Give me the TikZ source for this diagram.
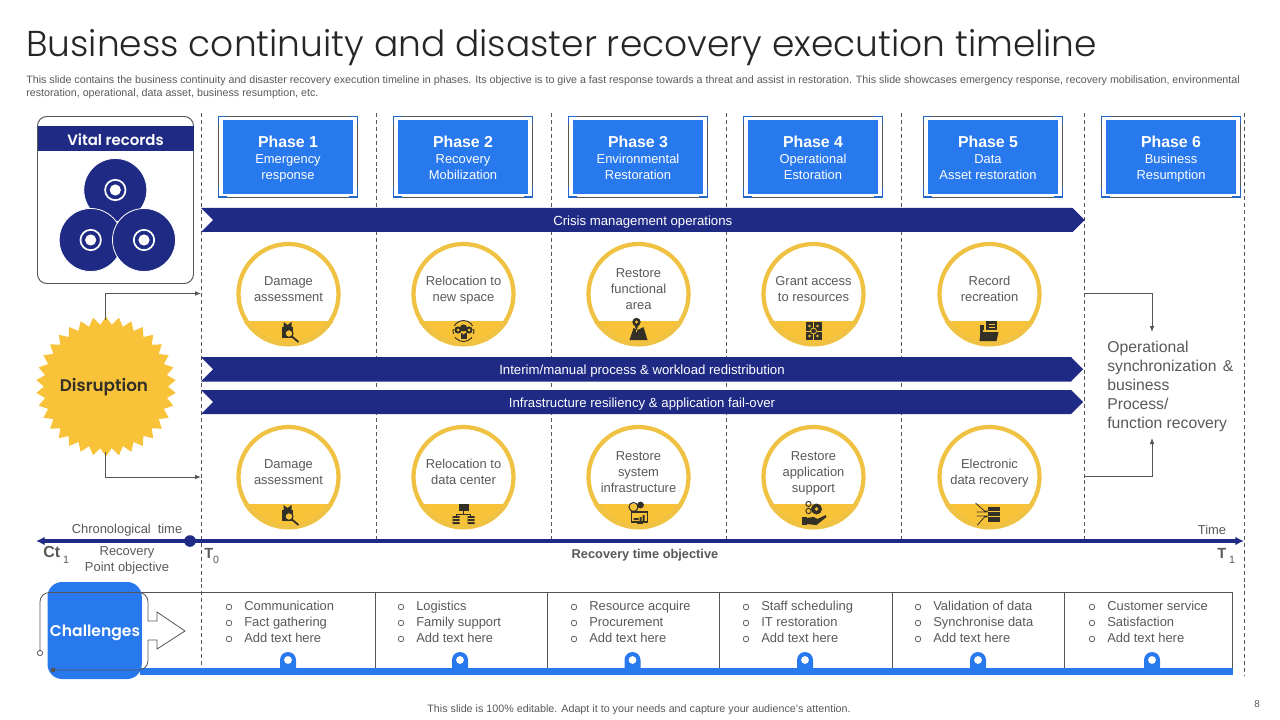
\documentclass[tikz,border=0pt]{standalone}
\usepackage{fontspec}
\setmainfont{Liberation Sans}
\newfontfamily\titlefont{Poppins Light}
\newfontfamily\geofont{Poppins SemiBold}
\usetikzlibrary{arrows.meta,shapes.geometric,shapes.arrows,calc}
\definecolor{navy}{HTML}{1F2A85}
\definecolor{blu}{HTML}{2878EE}
\definecolor{yel}{HTML}{F8C239}
\definecolor{ring}{HTML}{F0C244}
\definecolor{txt}{HTML}{595959}
\definecolor{edge}{HTML}{555555}
\definecolor{dark}{HTML}{333028}
\newcommand{\nl}{\strut\\\strut}
\tikzset{x=0.75pt,y=-0.75pt,
 txtnode/.style={text=txt,font=\fontsize{9.7}{12}\selectfont,align=center,inner sep=0pt},
 phasebox/.style={fill=blu,minimum width=130*0.75pt,minimum height=74*0.75pt,inner sep=0pt},
 phasetext/.style={text=white,align=center,inner sep=0pt,font=\fontsize{9.7}{12}\selectfont},
 dashline/.style={draw=edge,line width=0.6pt,dash pattern=on 3pt off 2.2pt},
 band/.style={fill=navy},
 arrowline/.style={draw=edge,line width=0.7pt,-{Latex[length=4.5pt,width=3.5pt]}},
 blabel/.style={text=white,font=\fontsize{9.9}{12}\selectfont,inner sep=0pt}
}
\newcommand{\disc}[3]{% x y r
 \fill[navy,draw=white,line width=0.6pt] (#1,#2) circle[radius=#3*0.75pt];
 \draw[white,line width=1.3pt] (#1,#2) circle[radius=10.2*0.75pt];
 \fill[white] (#1,#2) circle[radius=5.6*0.75pt];
}
\newcommand{\phasenode}[5]{% name, box cx, text cx, title, text
 \draw[edge,line width=0.7pt] (#2-69.5,116.5) rectangle (#2+69.5,197);
 \draw[blu!85!black,line width=1.4pt] (#2-69.5,124)--(#2-69.5,116.5)--(#2-61,116.5) (#2+61,116.5)--(#2+69.5,116.5)--(#2+69.5,124) (#2-69.5,187)--(#2-69.5,197)--(#2-61,197) (#2+61,197)--(#2+69.5,197)--(#2+69.5,187);
 \node[phasebox] (#1) at (#2,157) {};
 \node[phasetext] (#1t) at (#3,160) {{\bfseries\fontsize{11.9}{12}\selectfont\strut #4}\\\strut #5\strut};
}
\newcommand{\circlenode}[5]{% name cx cy text icon
 \fill[white] (#2,#3) circle[radius=52.5*0.75pt];
 \begin{scope}
  \clip (#2,#3) circle[radius=52.5*0.75pt];
  \fill[yel] (#2-60,#3+27) rectangle (#2+60,#3+60);
 \end{scope}
 \node[circle,draw=ring,line width=3.2pt,minimum size=100*0.75pt,inner sep=0pt] (#1) at (#2,#3) {};
 \node[txtnode,anchor=center] (#1t) at (#2,#3-3.5) {\strut #4\strut};
 \begin{scope}[shift={(#2,#3+37)}] #5 \end{scope}
}
\newcommand{\icongift}{%
 \fill[dark] (-6.5,-4) rectangle (4.5,7);
 \fill[dark] (-5,-9) -- (-1,-6) -- (3,-9) -- (3,-4) -- (-5,-4) -- cycle;
 \fill[yel] (0.5,2.5) circle[radius=3.4*0.75pt];
 \draw[dark,line width=.8pt] (0.5,2.5) circle[radius=4*0.75pt];
 \draw[dark,line width=1.3pt] (4,6)--(10,11);
}
\newcommand{\iconbulb}{%
 \draw[dark,line width=.7pt] (0,0) circle[radius=10.5*0.75pt];
 \fill[yel] (-14,-5) rectangle (14,-2);
 \fill[yel] (-14,3) rectangle (14,6);
 \fill[dark] (-5.5,-1) circle[radius=3.6*0.75pt] (5.5,-1) circle[radius=3.6*0.75pt] (0,-3) circle[radius=3.6*0.75pt];
 \fill[dark] (-3,2) rectangle (3,8);
 \fill[yel] (-5.5,-1) circle[radius=1.5*0.75pt] (5.5,-1) circle[radius=1.5*0.75pt] (0,2) circle[radius=1.5*0.75pt];
}
\newcommand{\iconmap}{%
 \fill[dark] (-9,9) -- (-5,-3) -- (-1,-1) -- (5,-4) -- (9,9) -- cycle;
 \fill[dark] (-2,-9) circle[radius=4.2*0.75pt];
 \fill[dark] (-5,-8) -- (1,-8) -- (-2,-1) -- cycle;
 \fill[yel] (-2,-9) circle[radius=1.7*0.75pt];
 \draw[yel,line width=.5pt] (-2,-1)--(-2,1);
}
\newcommand{\icongrid}{%
 \fill[dark] (-8,-9) rectangle (8,9);
 \draw[yel,line width=.7pt] (0,-9)--(0,-3) (0,3)--(0,9) (-8,0)--(-3,0) (3,0)--(8,0);
 \draw[yel,line width=.6pt] (0,0) circle[radius=3*0.75pt];
 \fill[yel] (-4,-5) circle[radius=1.4*0.75pt] (4,-5) circle[radius=1.4*0.75pt] (-4,5) circle[radius=1.4*0.75pt] (4,5) circle[radius=1.4*0.75pt];
}
\newcommand{\iconfolder}{%
 \fill[dark] (-4,-10) rectangle (7,0);
 \draw[yel,line width=.5pt] (-1,-7)--(5,-7) (-1,-4)--(5,-4);
 \fill[dark] (-10,-6) -- (-6,-6) -- (-6,10) -- (-10,10) -- cycle;
 \fill[yel] (-6.5,-1) rectangle (8,1);
 \fill[dark] (-9,1) -- (9,1) -- (7,10) -- (-10,10) -- cycle;
}
\newcommand{\iconnet}{%
 \fill[dark] (-5,-10) rectangle (5,-3);
 \draw[dark,line width=.6pt] (0,-3)--(0,0) (-7,2)--(-7,0)--(7,0)--(7,2);
 \fill[dark] (-11,2) rectangle (-4,10) (4,2) rectangle (11,10);
 \draw[yel,line width=.5pt] (-11,4.5)--(-4,4.5) (-11,7)--(-4,7) (4,4.5)--(11,4.5) (4,7)--(11,7);
}
\newcommand{\iconmon}{%
 \draw[dark,line width=.8pt] (-7,-2) rectangle (9,8);
 \fill[dark] (-2,8) rectangle (4,10);
 \fill[dark] (1,3) rectangle (3,7) (4,1) rectangle (6,7) (-5,4) rectangle (0,6);
 \draw[dark,line width=.8pt] (-5,-7) circle[radius=4.5*0.75pt];
 \fill[dark] (2,-9) circle[radius=3.4*0.75pt];
}
\newcommand{\iconhand}{%
 \fill[dark] (-12,3) rectangle (-7,11);
 \fill[dark] (-7,4) -- (0,3) -- (4,5) -- (12,1) -- (13,3) -- (3,11) -- (-7,10) -- cycle;
 \fill[dark] (3,-5) circle[radius=5.5*0.75pt];
 \fill[yel] (3,-5) circle[radius=1.8*0.75pt];
 \draw[dark,line width=.7pt] (-5,-10) circle[radius=2.6*0.75pt] (-5,-3) circle[radius=2.6*0.75pt];
}
\newcommand{\icondb}{%
 \fill[dark] (-2,-7) rectangle (10,8);
 \draw[yel,line width=.6pt] (-2,-3)--(10,-3) (-2,2)--(10,2);
 \draw[dark,line width=.6pt] (-14,-11)--(-5,-3)--(-2,-3) (-13,-2)--(-2,-2) (-13,2)--(-2,2) (-12,11)--(-5,3)--(-2,3);
}
\newcommand{\bandshape}[5]{% name y1 y2 x2 text
 \fill[band] (201,#2) -- (#4-12,#2) -- (#4,{(#2+#3)/2}) -- (#4-12,#3) -- (201,#3) -- (213,{(#2+#3)/2}) -- cycle;
 \node[blabel] (#1) at ({(201+#4)/2},{(#2+#3)/2+2}) {\strut #5};
}
\newcommand{\itemlist}[5]{% name x a b c
 \foreach \k/\t in {0/#3,1/#4,2/#5}{
  \draw[edge,line width=0.55pt] (#2-15,607+16*\k) circle[radius=2.8*0.75pt];
  \node[anchor=base west,txtnode,name=#1\k] at (#2,610+16*\k) {\t};
 }
}
\begin{document}
\begin{tikzpicture}
\path[use as bounding box] (0,0) rectangle (1280,720);
\fill[white] (0,0) rectangle (1280,720);
\node[anchor=west,inner sep=0pt,text=black!85,font=\titlefont\fontsize{27}{34}\selectfont] (title) at (26,48) {Business continuity and disaster recovery execution timeline};
\node[anchor=north west,inner sep=0pt,text=txt,font=\fontsize{8.03}{9.75}\selectfont,align=left] (sub) at (26,75) {This slide contains the business continuity and disaster recovery execution timeline in phases. Its objective is to give a fast response towards a threat and assist in restoration. This slide showcases emergency response, recovery mobilisation, environmental\\restoration, operational, data asset, business resumption, etc.};
\foreach \n/\x/\a/\b in {d1/201/113/668,d2/376.5/113/541,d3/551/113/541,d4/726.5/113/541,d5/901.5/113/541,d6/1084.5/113/541,d7/1244.5/113/676}{
 \coordinate (\n a) at (\x,\a); \coordinate (\n b) at (\x,\b);
 \draw[dashline] (\n a) -- (\n b);
}
\draw[edge,line width=0.7pt,rounded corners=7pt,fill=white] (37.5,116.5) rectangle (193.5,283.5);
\fill[navy] (37.5,126) rectangle (193.5,151);
\node[inner sep=0pt,text=white,font=\geofont\fontsize{11.2}{15}\selectfont] (vr) at (115.5,139.5) {Vital records};
\disc{115.3}{190}{31.5}
\disc{90.7}{240}{31.5}
\disc{144}{240}{31.5}
\phasenode{p1}{288}{288}{Phase 1}{Emergency\nl response}
\phasenode{p2}{463}{463}{Phase 2}{Recovery\nl Mobilization}
\phasenode{p3}{638}{638}{Phase 3}{Environmental\nl Restoration}
\phasenode{p4}{813}{813}{Phase 4}{Operational\nl Estoration}
\phasenode{p5}{993}{988}{Phase 5}{Data\nl Asset restoration}
\phasenode{p6}{1171}{1171}{Phase 6}{Business\nl Resumption}
\bandshape{b1}{208}{232}{1084.5}{Crisis management operations}
\bandshape{b2}{357}{381.5}{1083}{Interim/manual process \& workload redistribution}
\bandshape{b3}{390}{414}{1083}{Infrastructure resiliency \& application fail-over}
\circlenode{c1}{288.5}{294}{Damage\nl assessment}{\icongift}
\circlenode{c2}{463.5}{294}{Relocation to\nl new space}{\iconbulb}
\circlenode{c3}{638.5}{294}{Restore\nl functional\nl area}{\iconmap}
\circlenode{c4}{813.5}{294}{Grant access\nl to resources}{\icongrid}
\circlenode{c5}{989.5}{294}{Record\nl recreation}{\iconfolder}
\circlenode{c6}{288.5}{477}{Damage\nl assessment}{\icongift}
\circlenode{c7}{463.5}{477}{Relocation to\nl data center}{\iconnet}
\circlenode{c8}{638.5}{477}{Restore\nl system\nl infrastructure}{\iconmon}
\circlenode{c9}{813.5}{477}{Restore\nl application\nl support}{\iconhand}
\circlenode{c10}{989.5}{477}{Electronic\nl data recovery}{\icondb}
\coordinate (dt) at (201,293.5); \coordinate (db) at (201,477);
\node[star,star points=34,star point ratio=1.13,fill=yel,minimum size=140*0.75pt,inner sep=0pt] (dis) at (106,386.5) {};
\node[inner sep=0pt,text=dark,font=\geofont\fontsize{12.6}{17}\selectfont] (distxt) at (104,387) {Disruption};
\draw[arrowline] (105,320) -- (105,293.5) -- (dt);
\draw[arrowline] (105,452) -- (105,477) -- (db);
\node[anchor=north west,inner sep=0pt,text=txt,font=\fontsize{11.8}{14.25}\selectfont,align=left] (ops) at (1107,341) {Operational\\synchronization\hspace{1.5pt} \&\\business\\Process/\\function recovery};
\coordinate (r1) at (1085,293.5); \coordinate (r2) at (1152,332);
\coordinate (r3) at (1085,476); \coordinate (r4) at (1152,438);
\draw[arrowline] (r1) -- (1152,293.5) -- (r2);
\draw[arrowline] (r3) -- (1152,476) -- (r4);
\coordinate (tl) at (36,541); \coordinate (tr) at (1244,541);
\draw[navy,line width=2.6pt,{Latex[length=6.5pt,width=6.5pt]}-{Latex[length=6.5pt,width=6.5pt]}] (tl) -- (tr);
\fill[navy] (190,541) circle[radius=5.8*0.75pt];
\node[txtnode] (chrono) at (127,530) {\strut Chronological\hspace{2.5pt} time};
\node[txtnode] (rpo) at (127,560) {\strut Recovery\nl Point objective\strut};
\node[txtnode] (time) at (1212,531) {\strut Time};
\node[inner sep=0pt,text=txt,font=\bfseries\fontsize{9.6}{12}\selectfont] (rto) at (645,555) {\strut Recovery time objective};
\node[anchor=base west,inner sep=0pt,text=txt,font=\bfseries\fontsize{12}{14}\selectfont] (ct) at (43,557) {Ct\raisebox{-4.5pt}{\fontsize{8}{9}\selectfont\mdseries\ 1}};
\node[anchor=base west,inner sep=0pt,text=txt,font=\bfseries\fontsize{11}{14}\selectfont] (t0) at (204,558) {T\raisebox{-4pt}{\fontsize{8}{9}\selectfont\mdseries 0}};
\node[anchor=base west,inner sep=0pt,text=txt,font=\bfseries\fontsize{11}{14}\selectfont] (t1) at (1217,558) {T\raisebox{-4pt}{\fontsize{8}{9}\selectfont\mdseries\ 1}};
\draw[edge,line width=0.7pt] (140,592.5) -- (1232.5,592.5) -- (1232.5,674);
\fill[blu] (140,668) rectangle (1232.5,675);
\foreach \x/\n in {375/v1,547/v2,719.5/v3,892.5/v4,1064.5/v5}{
 \coordinate (\n a) at (\x,592.5); \coordinate (\n b) at (\x,668);
 \draw[edge,line width=0.7pt] (\n a) -- (\n b);
}
\foreach \x in {288,460,632.5,805,978,1152}{
 \fill[blu] (\x-8,668) -- (\x-8,660) arc[start angle=180,end angle=0,radius=8*0.75pt] -- (\x+8,668) -- cycle;
 \fill[white] (\x,660) circle[radius=3.9*0.75pt];
}
\itemlist{la}{244}{Communication}{Fact gathering}{Add text here}
\itemlist{lb}{416}{Logistics}{Family support}{Add text here}
\itemlist{lc}{589}{Resource acquire}{Procurement}{Add text here}
\itemlist{ld}{761}{Staff scheduling}{IT restoration}{Add text here}
\itemlist{le}{933}{Validation of data}{Synchronise data}{Add text here}
\itemlist{lf}{1107}{Customer service}{Satisfaction}{Add text here}
\fill[blu,rounded corners=11pt] (47.5,582) rectangle (141.8,679);
\node[inner sep=0pt,text=white,font=\geofont\fontsize{11.7}{15}\selectfont] (chal) at (95,633) {Challenges};
\coordinate (o1) at (40,653);
\coordinate (o2) at (53,670);
\draw[edge,line width=0.6pt,rounded corners=7pt] (o1) -- (40,592.5) -- (148,592.5) -- (148,621);
\draw[edge,line width=0.6pt] (148,621) -- (157,621) -- (157,612) -- (185,631) -- (157,649) -- (157,640) -- (148,640);
\draw[edge,line width=0.6pt,rounded corners=7pt] (148,640) -- (148,670) -- (o2);
\fill[edge] (o2) circle[radius=2.4*0.75pt];
\draw[edge,fill=white,line width=0.6pt] (o1) circle[radius=2.6*0.75pt];
\node[inner sep=0pt,text=txt,font=\fontsize{8.05}{9}\selectfont] (foot) at (639,710) {This slide is 100\% editable. Adapt it to your needs and capture your audience's attention.};
\node[inner sep=0pt,text=txt,font=\fontsize{7.4}{9}\selectfont] (pg) at (1257,704) {8};
\end{tikzpicture}
\end{document}
